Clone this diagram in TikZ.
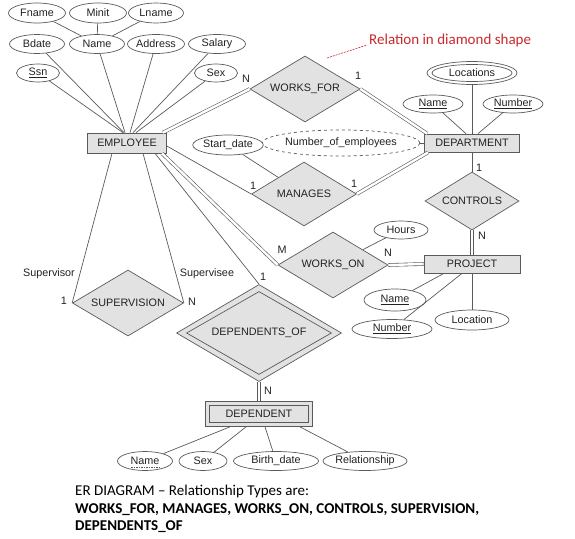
\documentclass[tikz,border=0pt]{standalone}
\usepackage{fontspec}
\setmainfont{Liberation Sans}
\newfontfamily\calib{Carlito}
\usetikzlibrary{shapes.geometric}
\definecolor{lc}{HTML}{5A5A5A}
\definecolor{boxfill}{HTML}{E2E2E2}
\definecolor{txt}{HTML}{222222}
\definecolor{annot}{HTML}{C8282D}
\begin{document}
\begin{tikzpicture}[x=1pt,y=-1pt,
  every node/.style={font=\fontsize{10.8}{12}\selectfont, text=txt},
  ln/.style={draw=lc, line width=0.7pt},
  dbl/.style={draw=lc, line width=0.6pt, double=white, double distance=2.4pt},
  attr/.style={ellipse, draw=lc, line width=0.7pt, fill=white, inner sep=0pt},
  ent/.style={rectangle, draw=lc, line width=0.7pt, fill=boxfill, inner sep=0pt},
  rel/.style={diamond, shape aspect=1.7, draw=lc, line width=0.7pt, fill=boxfill, inner sep=0pt},
  lbl/.style={inner sep=0pt},
  capt/.style={anchor=base west, inner sep=0pt, text=black, font=\calib\fontsize{15}{18}\selectfont}
]
\useasboundingbox (0,0) rectangle (575,538);

% EMPLOYEE attributes
\node[attr, minimum width=57, minimum height=20] (fname) at (37,13) {Fname};
\node[attr, minimum width=57, minimum height=20] (minit) at (98,13) {Minit};
\node[attr, minimum width=55, minimum height=20] (lname) at (156,13) {Lname};
\node[attr, minimum width=55, minimum height=19] (bdate) at (37,44) {Bdate};
\node[attr, minimum width=55, minimum height=19] (name) at (97,44) {Name};
\node[attr, minimum width=57, minimum height=19] (address) at (156,44) {Address};
\node[attr, minimum width=57, minimum height=19] (salary) at (217,44) {Salary};
\node[attr, minimum width=43, minimum height=18] (ssn) at (38,73) {\underline{Ssn}};
\node[attr, minimum width=43, minimum height=18] (sex) at (216,73) {Sex};
\node[ent, minimum width=79, minimum height=20] (emp) at (127,143) {EMPLOYEE};

% DEPARTMENT side
\node[rel, minimum width=110, minimum height=66] (wf) at (305,89) {WORKS\_FOR};
\node[ent, minimum width=95, minimum height=18] (dept) at (472,143) {DEPARTMENT};
\node[attr, minimum width=90, minimum height=23] (locout) at (472,73) {};
\node[attr, minimum width=80, minimum height=17] (loc) at (472,73) {Locations};
\node[attr, minimum width=60, minimum height=18] (dname) at (433,104) {\underline{Name}};
\node[attr, minimum width=60, minimum height=18] (dnum) at (513,104) {\underline{Number}};
\node[attr, dashed, minimum width=128, minimum height=26] (noe) at (341,143) {Number\_of\_employees};
\node[attr, minimum width=59, minimum height=20] (sd) at (228,145) {Start\_date};
\node[rel, minimum width=105, minimum height=64] (man) at (304,194) {MANAGES};
\node[rel, minimum width=94, minimum height=58] (ctl) at (472,201) {CONTROLS};

% PROJECT side
\node[ent, minimum width=96, minimum height=18] (proj) at (472,264) {PROJECT};
\node[rel, minimum width=110, minimum height=66] (won) at (333,265) {WORKS\_ON};
\node[attr, minimum width=54, minimum height=18] (hours) at (401,230) {Hours};
\node[attr, minimum width=62, minimum height=22] (pname) at (395,300) {\underline{Name}};
\node[attr, minimum width=80, minimum height=19] (pnum) at (392,329) {\underline{Number}};
\node[attr, minimum width=74, minimum height=20] (ploc) at (472,320) {Location};

% SUPERVISION, DEPENDENTS_OF, DEPENDENT
\node[rel, minimum width=111, minimum height=66] (sup) at (128,303) {SUPERVISION};
\node[rel, minimum width=165, minimum height=97] (depofo) at (259,333) {};
\node[rel, minimum width=145, minimum height=83] (depof) at (259,333) {DEPENDENTS\_OF};
\node[ent, minimum width=107, minimum height=25] (depo) at (259,414) {};
\node[ent, minimum width=99, minimum height=17] (dep) at (259,414) {DEPENDENT};
\node[attr, minimum width=55, minimum height=19] (dpn) at (145,461) {Name};
\node[attr, minimum width=48, minimum height=19] (dsex) at (203,461) {Sex};
\node[attr, minimum width=85, minimum height=19] (bdt) at (276,461) {Birth\_date};
\node[attr, minimum width=84, minimum height=19] (drel) at (365,461) {Relationship};
\draw[lc, dash pattern=on 1.5pt off 1pt, line width=0.5pt] ([xshift=-14pt,yshift=-6pt]dpn.center) -- ([xshift=14pt,yshift=-6pt]dpn.center);

% connectors
\draw[ln] (name) -- (fname);
\draw[ln] (name) -- (minit);
\draw[ln] (name) -- (lname);
\draw[ln] (ssn) -- ([xshift=-4pt]emp.north);
\draw[ln] (bdate) -- ([xshift=-3pt]emp.north);
\draw[ln] (name) -- ([xshift=-2pt]emp.north);
\draw[ln] (address) -- ([xshift=3pt]emp.north);
\draw[ln] (salary) -- ([xshift=6pt]emp.north);
\draw[ln] (sex) -- ([xshift=9pt]emp.north);

\draw[dbl] ([xshift=-4pt]emp.north east) -- (wf.west);
\draw[dbl] (wf.east) -- ([xshift=3pt]dept.north west);
\draw[ln] (locout) -- (dept);
\draw[ln] (dname) -- ([xshift=-6pt]dept.north);
\draw[ln] (dnum) -- ([xshift=6pt]dept.north);
\draw[ln] (noe) -- (dept);
\draw[ln] (sd) -- (man);
\draw[ln] ([yshift=-3pt]emp.east) -- (man.west);
\draw[dbl] (man.east) -- ([xshift=4pt]dept.south west);
\draw[ln] (dept.south) -- (ctl.north);
\draw[dbl] (ctl.south) -- (proj.north);
\draw[dbl] ([xshift=35pt]emp.south) -- (won.west);
\draw[dbl] (won.east) -- (proj.west);
\draw[ln] (hours) -- (won);
\draw[ln] (pname) -- ([xshift=-28pt]proj.south);
\draw[ln] (pnum) -- ([xshift=-10pt]proj.south);
\draw[ln] (ploc) -- (proj);
\draw[ln] ([xshift=-15pt]emp.south) -- (sup.west);
\draw[ln] ([xshift=16pt]emp.south) -- (sup.east);
\draw[ln] ([xshift=28pt]emp.south) -- (depofo.north);
\draw[dbl] (depofo.south) -- (depo.north);
\draw[ln] (dpn) -- ([xshift=-29pt]depo.south);
\draw[ln] (dsex) -- ([xshift=-13pt]depo.south);
\draw[ln] (bdt) -- ([xshift=6pt]depo.south);
\draw[ln] (drel) -- ([xshift=41pt]depo.south);

% cardinality / role labels
\node[lbl] (c1) at (246,79) {N};
\node[lbl] (c2) at (358,76) {1};
\node[lbl] (c3) at (253,186) {1};
\node[lbl] (c4) at (354,184) {1};
\node[lbl] (c5) at (282,250) {M};
\node[lbl] (c6) at (388,253) {N};
\node[lbl] (c7) at (479,168) {1};
\node[lbl] (c8) at (482,236) {N};
\node[lbl] (c9) at (263,277) {1};
\node[lbl] (c10) at (268,391) {N};
\node[lbl] (c11) at (64,301) {1};
\node[lbl] (c12) at (192,302) {N};
\node[lbl] (rs1) at (49,274) {Supervisor};
\node[lbl] (rs2) at (207,274) {Supervisee};

% annotation
\coordinate (an1) at (327,58);
\node[anchor=west, inner sep=0pt, text=annot, font=\calib\fontsize{15}{18}\selectfont] (annot) at (369,41) {Relation in diamond shape};
\draw[annot, line width=0.6pt, dash pattern=on 2pt off 1pt] (an1) -- ([xshift=-2pt,yshift=-4pt]annot.west);

% caption
\node[capt] (cap1) at (75,495) {ER DIAGRAM – Relationship Types are:};
\node[capt, font=\calib\bfseries\fontsize{15}{18}\selectfont] (cap2) at (75,513) {WORKS\_FOR, MANAGES, WORKS\_ON, CONTROLS, SUPERVISION,};
\node[capt, font=\calib\bfseries\fontsize{15}{18}\selectfont] (cap3) at (75,530) {DEPENDENTS\_OF};
\end{tikzpicture}
\end{document}
